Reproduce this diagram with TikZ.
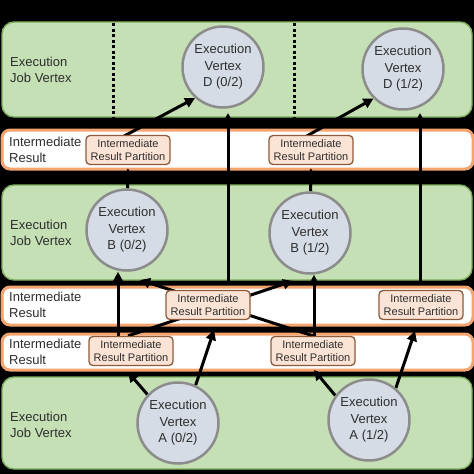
\documentclass[tikz,border=0pt]{standalone}
\usepackage{fontspec}
\setmainfont{Liberation Sans}
\usetikzlibrary{positioning,arrows.meta}

\definecolor{jobgreen}{HTML}{C5E0B4}
\definecolor{jobline}{HTML}{7DAE5E}
\definecolor{resline}{HTML}{F4A46E}
\definecolor{partfill}{HTML}{FBE4D5}
\definecolor{partline}{HTML}{8E5B3A}
\definecolor{vertfill}{HTML}{D6DCE5}
\definecolor{vertline}{HTML}{8C8C8C}
\definecolor{txt}{HTML}{2E2E2E}

\pgfdeclarelayer{bands}
\pgfdeclarelayer{edges}
\pgfsetlayers{bands,edges,main}

\begin{document}
\begin{tikzpicture}[x=1pt,y=-1pt,>={Triangle[length=10pt,width=10pt]},
    vertex/.style={circle,draw=vertline,fill=vertfill,line width=2.5pt,
      minimum size=81pt,inner sep=0pt,align=center,text=txt,
      font=\fontsize{13}{16.5}\selectfont},
    part/.style={rectangle,rounded corners=4pt,draw=partline,fill=partfill,
      line width=1.3pt,minimum width=84pt,minimum height=29pt,inner sep=1pt,
      align=center,text=txt,font=\fontsize{11}{13.5}\selectfont},
    bandlabel/.style={anchor=west,align=left,text=txt,inner sep=0pt,
      font=\fontsize{13}{15.5}\selectfont},
    jobband/.style={fill=jobgreen,draw=jobline,line width=1.4pt,rounded corners=12pt},
    resband/.style={fill=white,draw=resline,line width=3pt,rounded corners=8pt},
    flow/.style={->,line width=3pt,black},
    sep/.style={line width=3pt,dash pattern=on 3pt off 2.5pt}]

  \useasboundingbox (0,0) rectangle (474,474);

  % bands
  \begin{pgfonlayer}{bands}
    \fill[black] (0,0) rectangle (474,474);
    \path[jobband] (2,22)  rectangle (472,117);
    \path[resband] (2,130) rectangle (473,169);
    \path[jobband] (2,185) rectangle (472,280);
    \path[resband] (2,287) rectangle (473,325);
    \path[resband] (2,334) rectangle (473,370);
    \path[jobband] (2,377) rectangle (472,469);
  \end{pgfonlayer}

  \node[bandlabel] (lj1) at (10,70)  {Execution\\Job Vertex};
  \node[bandlabel] (lr2) at (9,150)  {Intermediate\\Result};
  \node[bandlabel] (lj3) at (10,233) {Execution\\Job Vertex};
  \node[bandlabel] (lr4) at (9,305)  {Intermediate\\Result};
  \node[bandlabel] (lr5) at (9,352)  {Intermediate\\Result};
  \node[bandlabel] (lj6) at (10,425) {Execution\\Job Vertex};

  % vertices
  \node[vertex] (d0) at (223,67)  {Execution\\Vertex\\D (0/2)};
  \node[vertex] (d1) at (403,69)  {Execution\\Vertex\\D (1/2)};
  \node[vertex] (b0) at (127,230) {Execution\\Vertex\\B (0/2)};
  \node[vertex] (b1) at (310,233) {Execution\\Vertex\\B (1/2)};
  \node[vertex] (a0) at (178,423) {Execution\\Vertex\\A (0/2)};
  \node[vertex] (a1) at (369,420) {Execution\\Vertex\\A (1/2)};

  % partitions
  \node[part] (p2a) at (128,150) {Intermediate\\Result Partition};
  \node[part] (p2b) at (311,150) {Intermediate\\Result Partition};
  \node[part] (p4a) at (208,305) {Intermediate\\Result Partition};
  \node[part] (p4b) at (421,305) {Intermediate\\Result Partition};
  \node[part] (p5a) at (131,351) {Intermediate\\Result Partition};
  \node[part] (p5b) at (313,351) {Intermediate\\Result Partition};

  \coordinate (a0p5) at (128,372);
  \coordinate (a0p4) at (214,330);
  \coordinate (a1p5) at (314,370);
  \coordinate (a1p4) at (415,331);
  \coordinate (b0in) at (140,280);
  \coordinate (b1in) at (293,281);

  \begin{pgfonlayer}{edges}
    \draw[flow] (a0.137) -- (a0p5);
    \draw[flow] (a0.65)  -- (a0p4);
    \draw[flow] (a1.144) -- (a1p5);
    \draw[flow] (a1.50)  -- (a1p4);
    \draw[flow] ([xshift=-13pt]p5a.north) -- ([xshift=-9pt]b0.south);
    \draw[flow] ([xshift=1pt]p5b.north)   -- ([xshift=4pt]b1.south);
    \draw[flow] ([xshift=-3pt]p5a.north)  -- (b1in);
    \draw[flow] (p5b.north) -- (b0in);
    \draw[flow] (b0) -- ([yshift=-3pt]p2a.south);
    \draw[flow] (b1) -- ([yshift=-3pt]p2b.south);
    \draw[flow] ([xshift=-11pt,yshift=-5pt]p2a.north) -- (d0.228);
    \draw[flow] ([xshift=-11pt,yshift=-5pt]p2b.north) -- (d1.225);
    \draw[flow] (228,282) -- (228,113);
    \draw[flow] (420,282) -- (420,113);
    \draw[sep] (113,23) -- (113,117);
    \draw[sep] (294,23) -- (294,117);
  \end{pgfonlayer}
\end{tikzpicture}
\end{document}
